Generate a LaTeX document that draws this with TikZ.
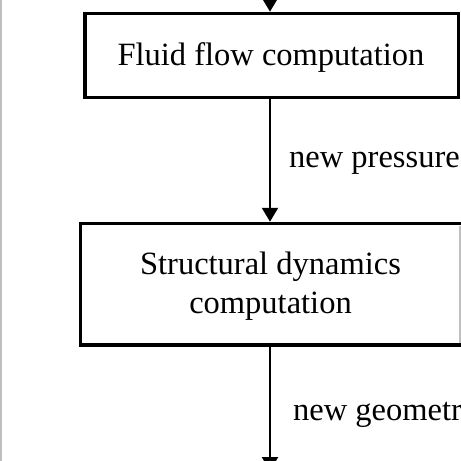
\documentclass[tikz,border=0pt]{standalone}
\usepackage{fontspec}
\setmainfont{Liberation Serif}
\usetikzlibrary{arrows.meta}
\begin{document}
\begin{tikzpicture}[x=1pt,y=-1pt,
  box/.style={draw=black, line width=3.5pt, rectangle, inner sep=0pt, fill=none},
  txt/.style={inner sep=0pt, font=\fontsize{32.5}{39}\selectfont},
  flow/.style={draw=black, line width=2.4pt, -{Triangle[length=14pt,width=16pt]}},
  plain/.style={draw=black, line width=2.4pt}]
\useasboundingbox (0,0) rectangle (461,461);
\fill[white] (0,0) rectangle (461,461);
% left grey border
\fill[black!25] (0,0) rectangle (2,461);
% boxes
\node[box, minimum width=373.5pt, minimum height=84pt] (fluid) at (271.75,55.5) {};
\node[box, minimum width=383.5pt, minimum height=121.5pt] (struct) at (272.25,284.25) {};
\fill[black!25] (458.5,225.5) rectangle (461,343);
% texts
\node[txt, anchor=base] (fluidtxt) at (271,65.6) {Fluid flow computation};
\node[txt, anchor=base] (structtxt1) at (270.5,274) {Structural dynamics};
\node[txt, anchor=base] (structtxt2) at (270.5,313) {computation};
\node[txt, anchor=base west] (press) at (289,167) {new pressure};
\node[txt, anchor=base west] (geom) at (293,420) {new geometry};
% connectors
\coordinate (ax) at (270,0);
\coordinate (in) at (270,-20);
\coordinate (out) at (270,471);
\draw[flow] (in) -- (fluid.north -| ax);
\draw[flow] (fluid.south -| ax) -- (struct.north -| ax);
\draw[flow] (struct.south -| ax) -- (out);
\end{tikzpicture}
\end{document}
